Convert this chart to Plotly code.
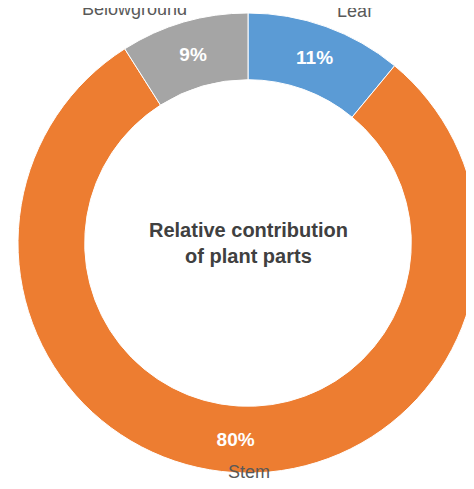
import plotly.graph_objects as go

# Daten
parts = ['Leaf', 'Stem', 'Belowground']
shares = [11, 80, 9]
colors = ['#5b9bd5', '#ed7d31', '#a5a5a5']

fig = go.Figure()

fig.add_trace(go.Pie(
    labels=parts,
    values=shares,
    hole=0.71,
    sort=False,
    direction='clockwise',
    rotation=0,
    marker=dict(colors=colors, line=dict(color='white', width=1)),
    textinfo='percent',
    textposition='inside',
    insidetextorientation='horizontal',
    textfont=dict(family='Liberation Sans', size=19, color='white', weight='bold'),
    showlegend=False,
    hoverinfo='label+percent'
))

# Beschriftungen außen
label_font = dict(family='Liberation Sans', size=18, color='#595959')
fig.add_annotation(text='Belowground', x=0.135, y=1.035, xref='paper', yref='paper',
                   showarrow=False, font=label_font)
fig.add_annotation(text='Leaf', x=0.776, y=1.03, xref='paper', yref='paper',
                   showarrow=False, font=label_font)
fig.add_annotation(text='Stem', x=0.502, y=-0.025, xref='paper', yref='paper',
                   showarrow=False, font=label_font)

# Text in der Mitte
fig.add_annotation(text='<b>Relative contribution<br>of plant parts</b>',
                   x=0.5, y=0.5, xref='paper', yref='paper', showarrow=False,
                   font=dict(family='Liberation Sans', size=20, color='#404040'))

fig.update_layout(
    width=474, height=489,
    margin=dict(l=10, r=4, t=5, b=24),
    paper_bgcolor='white',
    plot_bgcolor='white'
)

fig.write_html("out.html")
